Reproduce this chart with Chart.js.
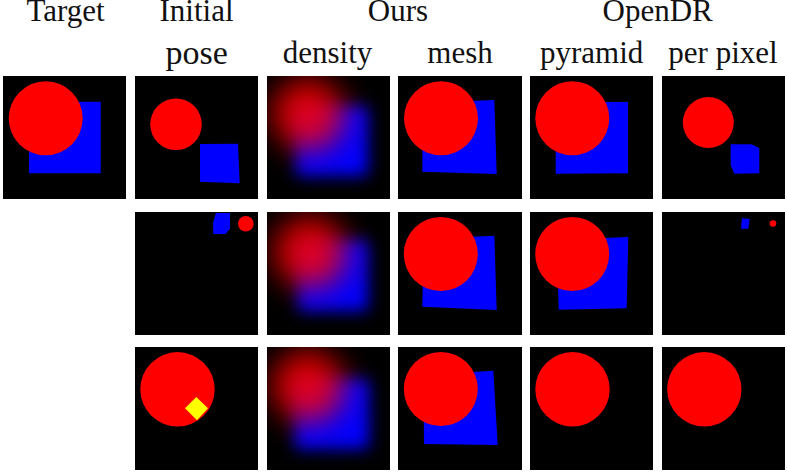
<!DOCTYPE html>
<html>
<head>
<meta charset="utf-8">
<script src="https://cdn.jsdelivr.net/npm/chart.js@4"></script>
<style>
  html, body { margin: 0; padding: 0; background: #fff; }
  #fig { position: relative; width: 787px; height: 474px; overflow: hidden; }
  #fig canvas { position: absolute; background: #000; }
  .label {
    position: absolute;
    transform: translateX(-50%);
    font-family: "Liberation Serif", serif;
    color: #111;
    white-space: nowrap;
    line-height: 1;
  }
</style>
</head>
<body>
<div id="fig"></div>
<script>
// Everything is in panel pixels, y going down. Circle = [x, y, r], shapes = corner lists
const RED = "#ff0000";
const BLUE = "#0000ff";
const YELLOW = "#ffff00";

const targetCircle = [42.7, 42.3, 37];
const targetSquare = [[26, 25.7], [97.7, 25.7], [97.7, 97.3], [26, 97.3]];

const initCircle1 = [41, 48.3, 25.8];
const initSquare1 = [[65, 68], [103, 67.7], [104.7, 107.3], [65, 105.7]];
const initCircle2 = [110.8, 11.8, 7.8];
const initSquare2 = [[81, 1], [95, 1], [95, 16.3], [90.7, 22], [78.3, 22], [78, 11.3], [79.7, 4.7]];
const initCircle3 = [42.5, 42.3, 37.2];
const initDiamond3 = [[61.3, 50], [73, 61.3], [62, 73.3], [50, 61.3]];

const densityCircle1 = [41, 38, 36];
const densitySquare1 = [[29, 30], [101, 30], [101, 100], [29, 100]];
const densityCircle2 = [43, 40, 36];
const densitySquare2 = [[31, 30], [101, 28], [101, 99], [31, 99]];
const densityCircle3 = [41, 39, 36];
const densitySquare3 = [[28, 32], [102, 32], [102, 102], [28, 102]];

const meshCircle1 = [43, 42.3, 37];
const meshSquare1 = [[24.3, 26.7], [96.3, 24], [98.7, 98], [24.3, 95.7]];
const meshCircle2 = [42.8, 42, 37];
const meshSquare2 = [[25.5, 27], [96.3, 23.7], [98.7, 98], [24.3, 94.7]];
const meshCircle3 = [42.8, 42, 37];
const meshSquare3 = [[25.3, 28], [95.3, 23.7], [99.7, 98], [26, 97]];

const pyramidCircle1 = [42.3, 42.3, 37];
const pyramidSquare1 = [[25.7, 26], [98, 26], [98, 97.3], [25.7, 97.7]];
const pyramidCircle2 = [42.2, 42, 37];
const pyramidSquare2 = [[26.7, 28], [98.3, 25], [96.7, 96.3], [28.7, 97.7]];
const pyramidCircle3 = [42.5, 42.3, 37.2];

const pixelCircle1 = [46.3, 46.5, 25.5];
const pixelShape1 = [[68.7, 68.3], [89.7, 68.3], [97.3, 72.3], [97.3, 97.3], [72.3, 97.7], [68.7, 89]];
const pixelCircle2 = [111, 11.5, 3.3];
const pixelSquare2 = [[80, 6.3], [87.7, 7], [86.3, 16.7], [79, 16.7]];
const pixelCircle3 = [42.3, 42.3, 37.2];

const columnLeft = [3, 135, 267, 398, 530, 662];
const columnWidth = [123, 123, 123, 124, 123, 123];
const rowTop = [76, 212, 347];
const PANEL_H = 123;

const SHARP = 0.4;
const RED_BLUR = 15;
const BLUE_BLUR = 8;

// Fill a scatter dataset as a closed polygon, and set the blur for the whole dataset
const shapePlugin = {
  id: "shapes",
  beforeDatasetDraw(chart, args) {
    const ds = chart.data.datasets[args.index];
    const ctx = chart.ctx;
    ctx.save();
    ctx.filter = "blur(" + (ds.blurPx || 0) + "px)";
    if (ds.polygon) {
      const pts = args.meta.data;
      ctx.beginPath();
      pts.forEach((p, i) => {
        if (i === 0) ctx.moveTo(p.x, p.y);
        else ctx.lineTo(p.x, p.y);
      });
      ctx.closePath();
      ctx.fillStyle = ds.polygonColor;
      ctx.fill();
    }
  },
  afterDatasetDraw(chart) {
    chart.ctx.restore();
  }
};

function circleSet(c, color, blurPx) {
  return {
    type: "bubble",
    data: [{ x: c[0], y: c[1], r: c[2] }],
    backgroundColor: color,
    borderWidth: 0,
    hoverRadius: 0,
    blurPx: blurPx
  };
}

function shapeSet(corners, color, blurPx) {
  return {
    type: "scatter",
    data: corners.map((p) => ({ x: p[0], y: p[1] })),
    pointRadius: 0,
    showLine: false,
    polygon: true,
    polygonColor: color,
    blurPx: blurPx
  };
}

function addPanel(col, row, datasets) {
  const canvas = document.createElement("canvas");
  canvas.width = columnWidth[col];
  canvas.height = PANEL_H;
  canvas.style.left = columnLeft[col] + "px";
  canvas.style.top = rowTop[row] + "px";
  canvas.style.width = columnWidth[col] + "px";
  canvas.style.height = PANEL_H + "px";
  document.getElementById("fig").appendChild(canvas);

  new Chart(canvas, {
    data: { datasets: datasets },
    plugins: [shapePlugin],
    options: {
      responsive: false,
      animation: false,
      events: [],
      layout: { padding: 0, autoPadding: false },
      plugins: { legend: { display: false }, tooltip: { enabled: false } },
      scales: {
        x: { type: "linear", display: false, min: 0, max: columnWidth[col] },
        y: { type: "linear", display: false, min: 0, max: PANEL_H, reverse: true }
      }
    }
  });
}

// First dataset ends up on top
function sharp(circle, shape, shapeColor) {
  const sets = [];
  if (shapeColor === YELLOW) sets.push(shapeSet(shape, YELLOW, SHARP));
  sets.push(circleSet(circle, RED, SHARP));
  if (shape && shapeColor !== YELLOW) sets.push(shapeSet(shape, BLUE, SHARP));
  return sets;
}

function density(circle, square) {
  return [
    circleSet(circle, "rgba(255,0,0,0.86)", RED_BLUR),
    shapeSet(square, BLUE, BLUE_BLUR)
  ];
}

addPanel(0, 0, sharp(targetCircle, targetSquare));

addPanel(1, 0, sharp(initCircle1, initSquare1));
addPanel(1, 1, sharp(initCircle2, initSquare2));
addPanel(1, 2, sharp(initCircle3, initDiamond3, YELLOW));

addPanel(2, 0, density(densityCircle1, densitySquare1));
addPanel(2, 1, density(densityCircle2, densitySquare2));
addPanel(2, 2, density(densityCircle3, densitySquare3));

addPanel(3, 0, sharp(meshCircle1, meshSquare1));
addPanel(3, 1, sharp(meshCircle2, meshSquare2));
addPanel(3, 2, sharp(meshCircle3, meshSquare3));

addPanel(4, 0, sharp(pyramidCircle1, pyramidSquare1));
addPanel(4, 1, sharp(pyramidCircle2, pyramidSquare2));
addPanel(4, 2, sharp(pyramidCircle3));

addPanel(5, 0, sharp(pixelCircle1, pixelShape1));
addPanel(5, 1, sharp(pixelCircle2, pixelSquare2));
addPanel(5, 2, sharp(pixelCircle3));

// Header text
function addLabel(text, centerX, top, size) {
  const el = document.createElement("div");
  el.className = "label";
  el.textContent = text;
  el.style.left = centerX + "px";
  el.style.top = top + "px";
  el.style.fontSize = size + "px";
  document.getElementById("fig").appendChild(el);
}

addLabel("Target", 65.5, -5, 31);
addLabel("Initial", 196.5, -5, 31);
addLabel("Ours", 398, -5, 31);
addLabel("OpenDR", 657.7, -5, 31);
addLabel("pose", 196.7, 36, 34);
addLabel("density", 327.5, 37, 31);
addLabel("mesh", 460, 37, 31);
addLabel("pyramid", 591.7, 37, 31);
addLabel("per pixel", 723, 37, 31);
</script>
</body>
</html>
